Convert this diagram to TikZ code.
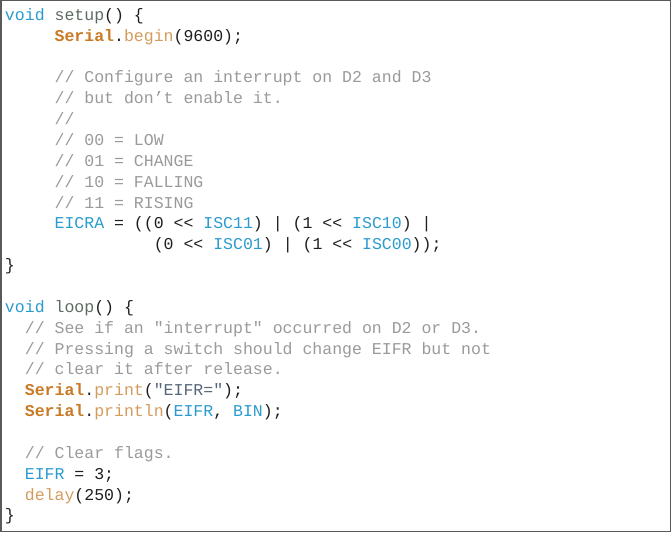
\documentclass[tikz,border=0pt]{standalone}
\usepackage{fontspec}
\newfontfamily\codefont{Liberation Mono}
\definecolor{kwblue}{HTML}{2A9BCF}
\definecolor{fngray}{HTML}{5E6B60}
\definecolor{serorange}{HTML}{C97A25}
\definecolor{mtorange}{HTML}{D49C5C}
\definecolor{cmgray}{HTML}{9A9A9A}
\definecolor{strcol}{HTML}{55657A}
\definecolor{txtdark}{HTML}{1E1E1E}
\definecolor{framegray}{HTML}{5A5A5A}
\newcommand\cKw[1]{\textcolor{kwblue}{#1}}
\newcommand\cFn[1]{\textcolor{fngray}{#1}}
\newcommand\cSer[1]{\textcolor{serorange}{\bfseries #1}}
\newcommand\cMt[1]{\textcolor{mtorange}{#1}}
\newcommand\cCm[1]{\textcolor{cmgray}{#1}}
\newcommand\cStr[1]{\textcolor{strcol}{#1}}
\tikzset{
  codeline/.style={anchor=base west, inner sep=0pt, outer sep=0pt, text=txtdark,
    font=\codefont\fontsize{16.53pt}{20pt}\selectfont},
  framebox/.style={draw=framegray, line width=1.5pt}
}
\begin{document}
\begin{tikzpicture}[x=1pt,y=-1pt]
\useasboundingbox (0,0) rectangle (671,532);
\draw[framebox] (0.75,0.75) rectangle (670.25,531.25);
\node[codeline] (l1)  at (5,20.3)     {\cKw{void} \cFn{setup}() \{};
\node[codeline] (l2)  at (54.6,41.16) {\cSer{Serial}.\cMt{begin}(9600);};
\node[codeline] (l4)  at (54.6,82.88) {\cCm{// Configure an interrupt on D2 and D3}};
\node[codeline] (l5)  at (54.6,103.74){\cCm{// but don’t enable it.}};
\node[codeline] (l6)  at (54.6,124.6) {\cCm{//}};
\node[codeline] (l7)  at (54.6,145.46){\cCm{// 00 = LOW}};
\node[codeline] (l8)  at (54.6,166.32){\cCm{// 01 = CHANGE}};
\node[codeline] (l9)  at (54.6,187.18){\cCm{// 10 = FALLING}};
\node[codeline] (l10) at (54.6,208.04){\cCm{// 11 = RISING}};
\node[codeline] (l11) at (54.6,228.9) {\cKw{EICRA} = ((0 <{}< \cKw{ISC11}) | (1 <{}< \cKw{ISC10}) |};
\node[codeline] (l12) at (153.8,249.76){(0 <{}< \cKw{ISC01}) | (1 <{}< \cKw{ISC00}));};
\node[codeline] (l13) at (5,270.62)   {\}};
\node[codeline] (l15) at (5,312.34)   {\cKw{void} \cFn{loop}() \{};
\node[codeline] (l16) at (24.84,333.2){\cCm{// See if an "interrupt" occurred on D2 or D3.}};
\node[codeline] (l17) at (24.84,354.06){\cCm{// Pressing a switch should change EIFR but not}};
\node[codeline] (l18) at (24.84,374.92){\cCm{// clear it after release.}};
\node[codeline] (l19) at (24.84,395.78){\cSer{Serial}.\cMt{print}(\cStr{"EIFR="});};
\node[codeline] (l20) at (24.84,416.64){\cSer{Serial}.\cMt{println}(\cKw{EIFR}, \cKw{BIN});};
\node[codeline] (l22) at (24.84,458.36){\cCm{// Clear flags.}};
\node[codeline] (l23) at (24.84,479.22){\cKw{EIFR} = 3;};
\node[codeline] (l24) at (24.84,500.08){\cMt{delay}(250);};
\node[codeline] (l25) at (5,520.94)   {\}};
\end{tikzpicture}
\end{document}
